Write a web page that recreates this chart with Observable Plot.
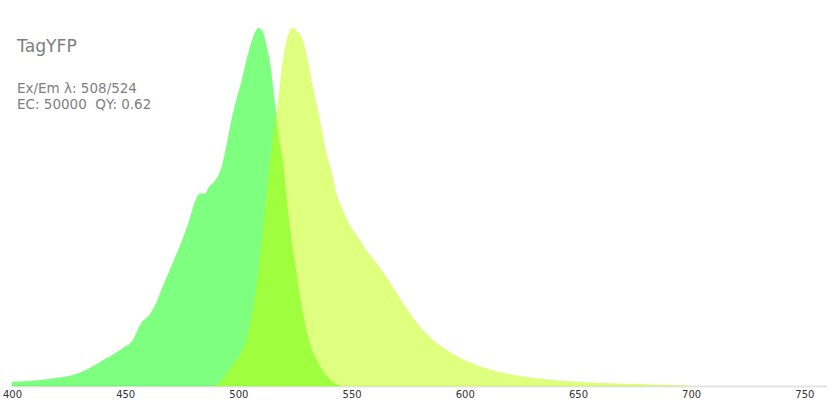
<!DOCTYPE html>
<html>
<head>
<meta charset="utf-8">
<script src="https://cdn.jsdelivr.net/npm/d3@7"></script>
<script src="https://cdn.jsdelivr.net/npm/@observablehq/plot@0.6"></script>
<style>
  html, body { margin: 0; padding: 0; background: #fff; }
  #chart { position: relative; width: 840px; height: 420px; font-family: "DejaVu Sans", sans-serif; }
  #title { position: absolute; left: 17px; top: 36px; font-size: 17.2px; color: #808080; }
  #sub { position: absolute; left: 17px; top: 80px; font-size: 13.5px; line-height: 16px; color: #808080; white-space: pre; }
</style>
</head>
<body>
<div id="chart">
  <div id="title"></div>
  <div id="sub"></div>
</div>
<script>
const titleText = "TagYFP";
const subtitleLines = ["Ex/Em λ: 508/524", "EC: 50000  QY: 0.62"];
const xTicks = [400, 450, 500, 550, 600, 650, 700, 750];

// Excitation spectrum (wavelength nm, normalized value)
const exWavelength = [400, 410, 420, 425, 430, 434, 441.6, 448.9, 453.4, 457.1, 460.7, 463.7, 466.6, 471, 474.7, 478.4, 480.6, 483.1, 485, 487.2, 489.9, 492.5, 494.7, 496.9, 499.2, 501.4, 503.6, 505.8, 507.6, 508.9, 510.6, 512.4, 514.2, 515.9, 517.7, 519.5, 522, 525, 528, 531, 534, 537, 540, 545];
const exValue      = [0.011, 0.015, 0.022, 0.027, 0.037, 0.049, 0.077, 0.105, 0.128, 0.175, 0.198, 0.231, 0.277, 0.343, 0.399, 0.464, 0.51, 0.538, 0.536, 0.557, 0.575, 0.609, 0.67, 0.74, 0.80, 0.85, 0.91, 0.96, 0.99, 1.0, 0.99, 0.95, 0.89, 0.80, 0.70, 0.63, 0.48, 0.34, 0.22, 0.13, 0.08, 0.045, 0.02, 0.0];

// Emission spectrum
const emWavelength = [489, 492, 496, 500, 503.6, 506, 509, 512, 514.6, 517.7, 519.5, 521.2, 523, 524.3, 526, 528.4, 530.6, 532.2, 534.4, 536.6, 538.8, 541, 543.2, 546.1, 549.1, 552.7, 556.4, 562.3, 566.7, 572.6, 578.5, 584.4, 591.8, 597.7, 606, 615, 624, 633, 650, 668, 686, 700];
const emValue      = [0.0, 0.01, 0.045, 0.08, 0.128, 0.2, 0.324, 0.5, 0.66, 0.8, 0.9, 0.96, 0.995, 1.0, 0.99, 0.966, 0.91, 0.855, 0.79, 0.723, 0.651, 0.603, 0.539, 0.492, 0.45, 0.416, 0.38, 0.332, 0.291, 0.232, 0.179, 0.137, 0.101, 0.078, 0.056, 0.039, 0.028, 0.02, 0.011, 0.006, 0.003, 0.0];

const exData = exWavelength.map((w, i) => ({w, v: exValue[i]}));
const emData = emWavelength.map((w, i) => ({w, v: emValue[i]}));

document.getElementById("title").textContent = titleText;
document.getElementById("sub").textContent = subtitleLines.join("\n");

const plot = Plot.plot({
  width: 840,
  height: 420,
  marginLeft: 12,
  marginRight: 13,
  marginTop: 28,
  marginBottom: 34,
  style: {fontFamily: "DejaVu Sans, sans-serif", fontSize: "10px", color: "#333", background: "transparent"},
  x: {domain: [400, 760], ticks: xTicks, tickSize: 0, tickPadding: 4, label: null},
  y: {domain: [0, 1], axis: null},
  marks: [
    Plot.ruleY([0], {stroke: "#e3e3e3", strokeWidth: 2}),
    Plot.areaY(exData, {x: "w", y: "v", curve: "monotone-x", fill: "#00ff00", fillOpacity: 0.5, stroke: "#00ff00", strokeOpacity: 0.15, strokeWidth: 1}),
    Plot.areaY(emData, {x: "w", y: "v", curve: "monotone-x", fill: "#c0ff00", fillOpacity: 0.5, stroke: "#c0ff00", strokeOpacity: 0.15, strokeWidth: 1}),
    Plot.axisX({ticks: xTicks, tickSize: 0, tickPadding: 4, label: null})
  ]
});
plot.style.position = "absolute";
plot.style.left = "0";
plot.style.top = "0";
document.getElementById("chart").insertBefore(plot, document.getElementById("title"));
</script>
</body>
</html>
